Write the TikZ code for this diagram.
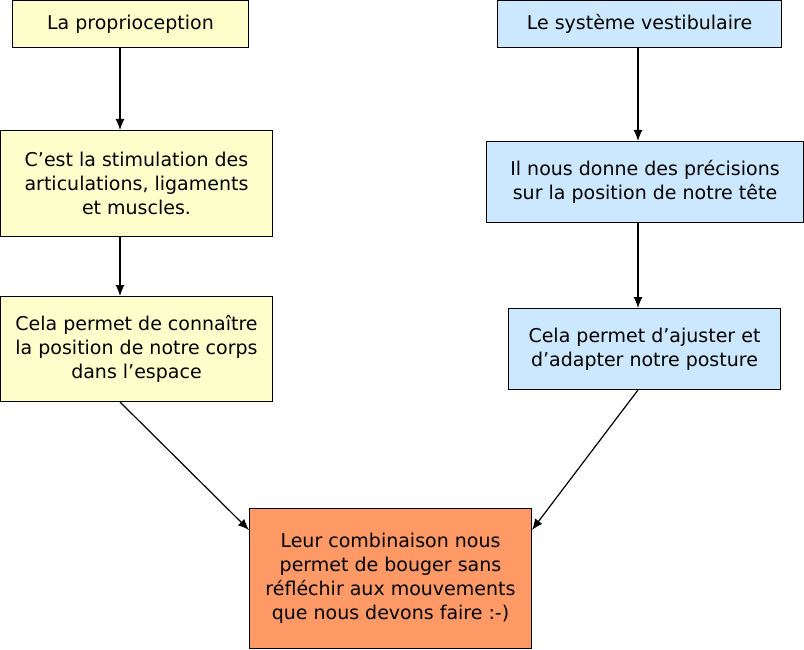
\documentclass[tikz,border=0pt]{standalone}
\usepackage{fontspec}
\setmainfont{DejaVu Sans}
\usetikzlibrary{calc, positioning, arrows.meta}
\definecolor{boxyellow}{HTML}{FFFFCC}
\definecolor{boxblue}{HTML}{CCE8FF}
\definecolor{boxorange}{HTML}{FF9966}
\tikzset{>={Latex[length=11pt,width=9pt]},
  boite/.style={draw=black, line width=1pt, anchor=north west, inner sep=0pt, align=center, font=\fontsize{19}{24}\selectfont}}
\begin{document}
\begin{tikzpicture}[x=1pt, y=-1pt, line width=1.2pt]
  \useasboundingbox (0,0) rectangle (804,650);
  % colonne de gauche
  \node [boite, fill=boxyellow, minimum width=236pt, minimum height=47pt] (prop) at (12,0) {La proprioception};
  \node [boite, fill=boxyellow, minimum width=272pt, minimum height=106pt] (stim) at (0,130) {C’est la stimulation des\\articulations, ligaments\\et muscles.};
  \node [boite, fill=boxyellow, minimum width=272pt, minimum height=105pt] (corps) at (0,296) {Cela permet de connaître\\la position de notre corps\\dans l’espace};
  % colonne de droite
  \node [boite, fill=boxblue, minimum width=284pt, minimum height=47pt] (vest) at (497,0) {Le système vestibulaire};
  \node [boite, fill=boxblue, minimum width=317pt, minimum height=81pt] (tete) at (486,141) {Il nous donne des précisions\\sur la position de notre tête};
  \node [boite, fill=boxblue, minimum width=272pt, minimum height=81pt] (post) at (508,308) {Cela permet d’ajuster et\\d’adapter notre posture};
  % bas
  \node [boite, fill=boxorange, minimum width=282pt, minimum height=140pt] (comb) at (249,508) {Leur combinaison nous\\permet de bouger sans\\réfléchir aux mouvements\\que nous devons faire :-)};
  \draw [->] (prop.south -| 120,0) -- (stim.north -| 120,0);
  \draw [->] (stim.south -| 120,0) -- (corps.north -| 120,0);
  \draw [->] (vest.south -| 638,0) -- (tete.north -| 638,0);
  \draw [->] (tete.south -| 638,0) -- (post.north -| 638,0);
  \draw [->] (corps.south -| 120,0) -- ($(comb.north west)+(0,22)$);
  \draw [->] (post.south -| 638,0) -- ($(comb.north east)+(0,22)$);
\end{tikzpicture}
\end{document}
